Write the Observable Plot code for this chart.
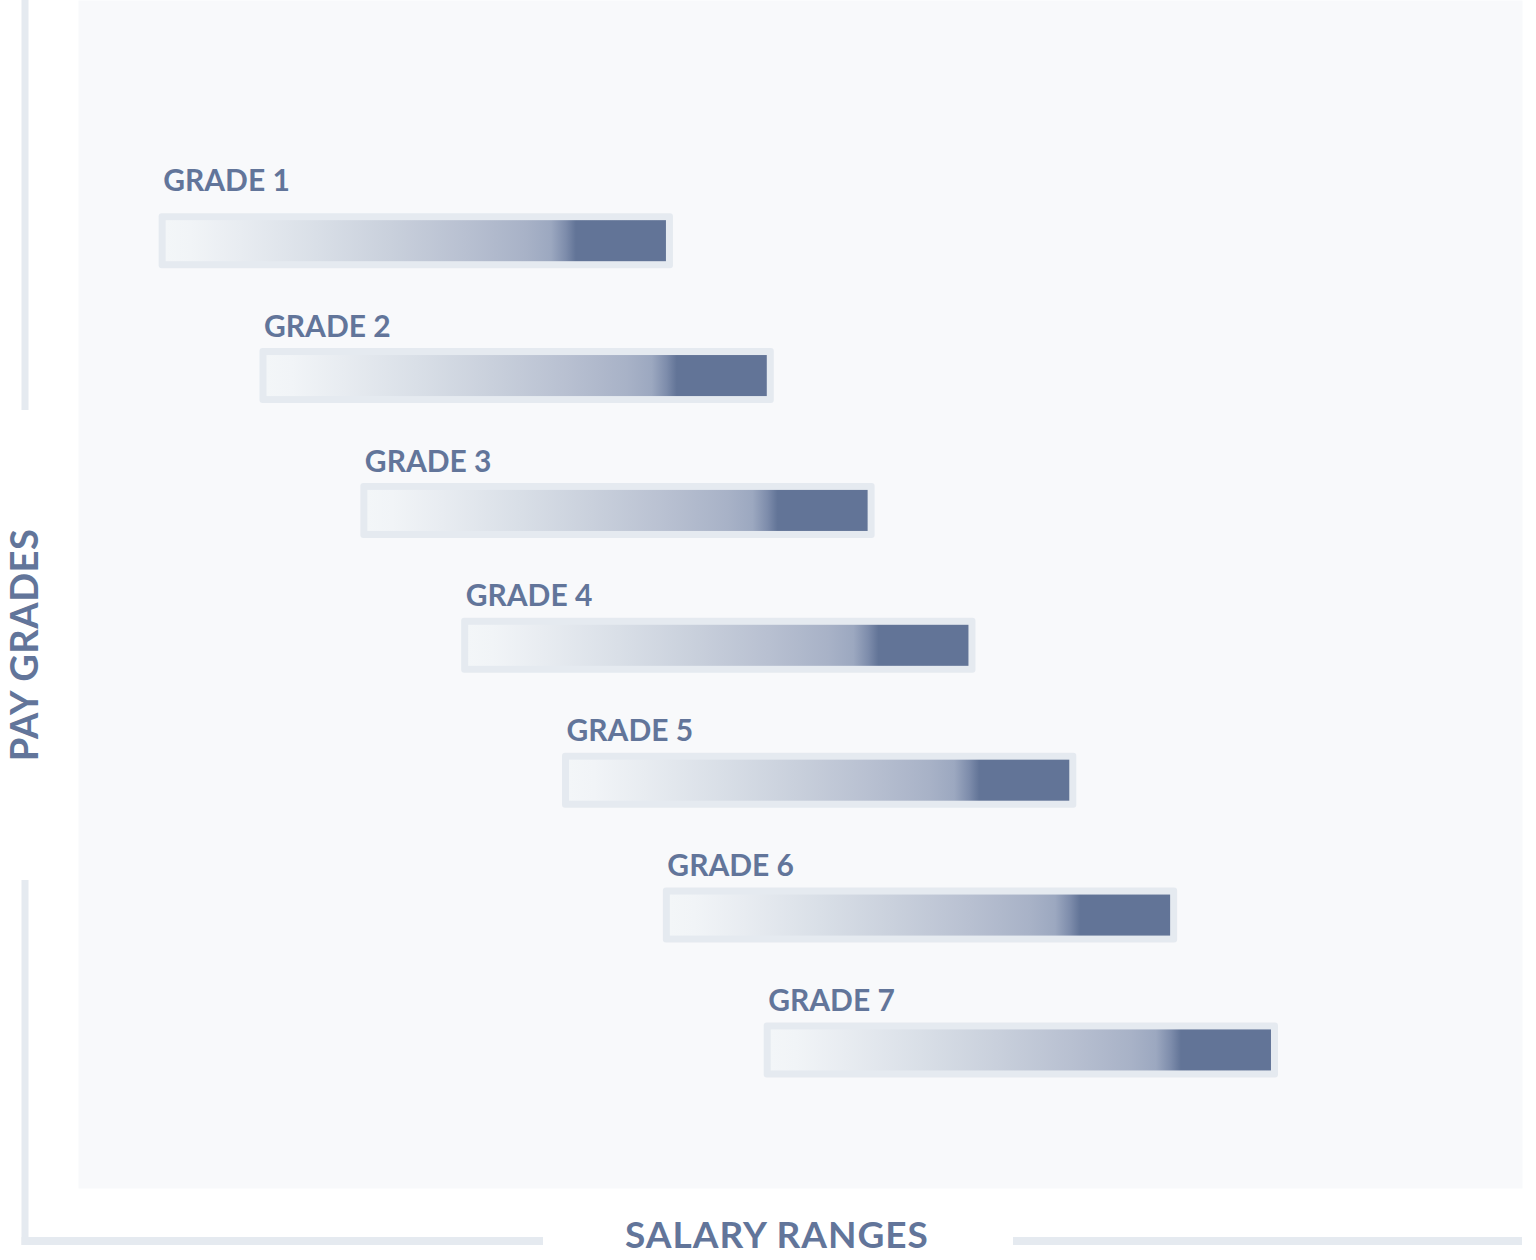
<!DOCTYPE html>
<html>
<head>
<meta charset="utf-8">
<script src="https://cdn.jsdelivr.net/npm/d3@7"></script>
<script src="https://cdn.jsdelivr.net/npm/@observablehq/plot@0.6"></script>
<style>
  html, body { margin: 0; padding: 0; background: #ffffff; }
  #chart svg { display: block; }
</style>
</head>
<body>
<div id="chart"></div>
<script>
const grades = ["GRADE 1", "GRADE 2", "GRADE 3", "GRADE 4", "GRADE 5", "GRADE 6", "GRADE 7"];
const salaryMin = [20, 30, 40, 50, 60, 70, 80];
const salaryMax = [71, 81, 91, 101, 111, 121, 131];
const yTitle = "PAY GRADES";
const xTitle = "SALARY RANGES";

const data = grades.map((g, i) => ({grade: g, min: salaryMin[i], max: salaryMax[i]}));

const textColor = "#62759a";
const frameColor = "#e5eaf0";
const font = "Lato, 'Noto Sans', sans-serif";

const gradientDefs = () => {
  const ns = "http://www.w3.org/2000/svg";
  const defs = document.createElementNS(ns, "defs");
  const lg = document.createElementNS(ns, "linearGradient");
  lg.setAttribute("id", "barGradient");
  lg.setAttribute("x1", "0"); lg.setAttribute("x2", "1");
  lg.setAttribute("y1", "0"); lg.setAttribute("y2", "0");
  const stops = [
    [0, "#f3f6f8"], [0.05, "#f1f4f7"], [0.15, "#e8ecf1"], [0.30, "#d9dfe7"],
    [0.45, "#c9d0dc"], [0.60, "#b8c0d1"], [0.72, "#a8b2c7"], [0.77, "#9ca8c0"],
    [0.80, "#7d8cab"], [0.82, "#627497"], [1, "#627497"]
  ];
  for (const [o, c] of stops) {
    const s = document.createElementNS(ns, "stop");
    s.setAttribute("offset", o);
    s.setAttribute("stop-color", c);
    lg.appendChild(s);
  }
  defs.appendChild(lg);
  return defs;
};

const chart = Plot.plot({
  width: 1536,
  height: 1260,
  marginLeft: 78,
  marginRight: 14,
  marginTop: 0,
  marginBottom: 72,
  style: {background: "transparent", fontFamily: font, overflow: "visible"},
  x: {domain: [12, 155.2], axis: null},
  y: {domain: grades, axis: null, paddingInner: 0.592, paddingOuter: 1.2, align: 0.6585, round: false},
  marks: [
    gradientDefs,
    Plot.frame({fill: "#f8f9fb", stroke: null}),
    Plot.barX(data, {x1: "min", x2: "max", y: "grade", fill: frameColor, rx: 3}),
    Plot.barX(data, {x1: "min", x2: "max", y: "grade", fill: "url(#barGradient)", inset: 7}),
    Plot.text(data.filter((d, i) => i === 0), {x: "min", y: "grade", text: "grade", dx: 4, dy: -60,
      textAnchor: "start", fontSize: 30, fontWeight: 700, fill: textColor}),
    Plot.text(data.filter((d, i) => i > 0), {x: "min", y: "grade", text: "grade", dx: 4, dy: -49,
      textAnchor: "start", fontSize: 30, fontWeight: 700, fill: textColor})
  ]
});

const svg = d3.select(chart);
const deco = svg.append("g");
deco.append("rect").attr("x", 21.5).attr("y", 0).attr("width", 7).attr("height", 410).attr("fill", frameColor);
deco.append("rect").attr("x", 21.5).attr("y", 880).attr("width", 7).attr("height", 365).attr("fill", frameColor);
deco.append("rect").attr("x", 21.5).attr("y", 1237).attr("width", 521.5).attr("height", 8).attr("fill", frameColor);
deco.append("rect").attr("x", 1013).attr("y", 1237).attr("width", 509).attr("height", 8).attr("fill", frameColor);
deco.append("text")
  .attr("transform", "translate(38,645) rotate(-90)")
  .attr("text-anchor", "middle")
  .attr("font-family", font).attr("font-weight", 700).attr("font-size", 38)
  .attr("letter-spacing", 0.5)
  .attr("fill", textColor).text(yTitle);
deco.append("text")
  .attr("x", 777).attr("y", 1248)
  .attr("text-anchor", "middle")
  .attr("font-family", font).attr("font-weight", 700).attr("font-size", 37)
  .attr("letter-spacing", 1)
  .attr("fill", textColor).text(xTitle);

document.getElementById("chart").appendChild(chart);
</script>
</body>
</html>
